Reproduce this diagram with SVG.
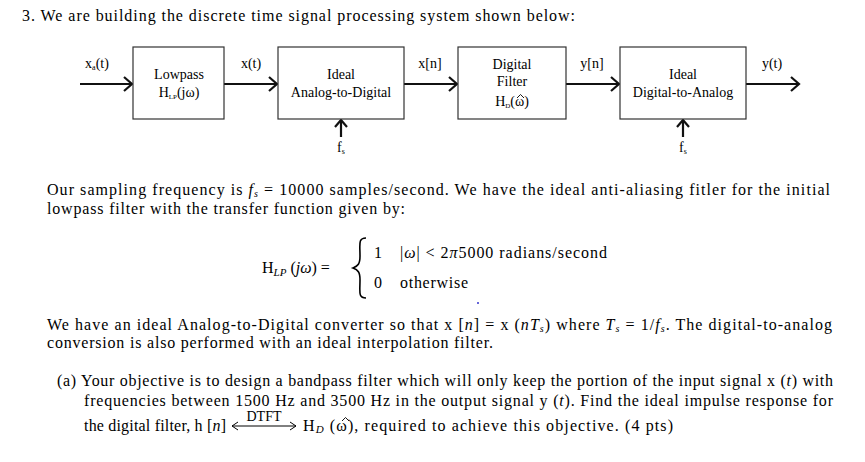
<svg xmlns="http://www.w3.org/2000/svg" width="865" height="462" viewBox="0 0 865 462">
<style>
text{font-family:"Liberation Serif","DejaVu Serif",serif;fill:#000}
.b{font-size:14px;text-anchor:middle}
.p{font-size:16px}
.box{fill:#fff;stroke:#333;stroke-width:1.2}
.c line{stroke:#111;stroke-width:2.2}
.ar{fill:none;stroke:#111;stroke-width:2.2}
.hat{fill:none;stroke:#000;stroke-width:0.9}
</style>
<rect width="865" height="462" style="fill:#fff;stroke:none"/>
<text class="p" x="22" y="21" textLength="553" lengthAdjust="spacing">3.  We are building the discrete time signal processing system shown below:</text>
<g class="c">
<line x1="80" y1="84" x2="131" y2="84"/><path class="ar" d="M124,77 L132,84 L124,91"/>
<line x1="224" y1="84" x2="276" y2="84"/><path class="ar" d="M269,77 L277,84 L269,91"/>
<line x1="404" y1="84" x2="456" y2="84"/><path class="ar" d="M449,77 L457,84 L449,91"/>
<line x1="566" y1="84" x2="618" y2="84"/><path class="ar" d="M611,77 L619,84 L611,91"/>
<line x1="746" y1="84" x2="798" y2="84"/><path class="ar" d="M791,77 L799,84 L791,91"/>
<line x1="341" y1="137" x2="341" y2="121"/><path class="ar" d="M335,127 L341,120 L347,127"/>
<line x1="683" y1="137" x2="683" y2="121"/><path class="ar" d="M677,127 L683,120 L689,127"/>
</g>
<text class="b" x="97" y="68">x<tspan font-size="8" dy="2">a</tspan><tspan dy="-2">(t)</tspan></text>
<text class="b" x="251" y="68">x(t)</text>
<text class="b" x="430" y="68">x[n]</text>
<text class="b" x="592" y="68">y[n]</text>
<text class="b" x="772" y="68">y(t)</text>
<g id="lowpass"><rect class="box" x="133" y="47" width="91" height="72"/><text class="b" x="179" y="79">Lowpass</text><text class="b" x="179" y="97">H<tspan font-size="7" dy="2">LP</tspan><tspan dy="-2">(jω)</tspan></text></g>
<g id="adc"><rect class="box" x="278" y="47" width="126" height="72"/><text class="b" x="341" y="79">Ideal</text><text class="b" x="341" y="97">Analog-to-Digital</text></g>
<g id="filter"><rect class="box" x="458" y="47" width="108" height="72"/><text class="b" x="512" y="69">Digital</text><text class="b" x="512" y="86">Filter</text><text class="b" x="512" y="106">H<tspan font-size="7" dy="2">D</tspan><tspan dy="-2">(ω)</tspan></text><path class="hat" d="M517,98 L520.5,94.5 L524,98"/></g>
<g id="dac"><rect class="box" x="620" y="47" width="126" height="72"/><text class="b" x="683" y="79">Ideal</text><text class="b" x="683" y="97">Digital-to-Analog</text></g>
<text class="b" x="341" y="152">f<tspan font-size="8" dy="2">s</tspan></text>
<text class="b" x="683" y="152">f<tspan font-size="8" dy="2">s</tspan></text>
<text class="p" x="47" y="195" textLength="783" lengthAdjust="spacing">Our sampling frequency is <tspan font-style="italic">f<tspan font-size="10" dy="2">s</tspan></tspan><tspan dy="-2"> = 10000 samples/second.  We have the ideal anti-aliasing fitler for the initial</tspan></text>
<text class="p" x="47" y="214" textLength="358" lengthAdjust="spacing">lowpass filter with the transfer function given by:</text>
<text class="p" x="262" y="273">H<tspan font-size="11" font-style="italic" dy="3">LP</tspan><tspan dy="-3"> (</tspan><tspan font-style="italic">jω</tspan>) =</text>
<path d="M366,238 C358,238 360,244 360,256 C360,264 358,266 353,268 C358,270 360,272 360,280 C360,292 358,298 366,298" fill="none" stroke="#000" stroke-width="1.6"/>
<text class="p" x="374" y="258">1</text>
<text class="p" x="400" y="258" textLength="207" lengthAdjust="spacing">|<tspan font-style="italic">ω</tspan>| &lt; 2<tspan font-style="italic">π</tspan>5000 radians/second</text>
<text class="p" x="374" y="288">0</text>
<text class="p" x="400" y="288" textLength="68" lengthAdjust="spacing">otherwise</text>
<circle cx="478" cy="303" r="1" fill="#33c"/>
<text class="p" x="47" y="330" textLength="785" lengthAdjust="spacing">We have an ideal Analog-to-Digital converter so that x [<tspan font-style="italic">n</tspan>] = x (<tspan font-style="italic">nT<tspan font-size="10" dy="2">s</tspan></tspan><tspan dy="-2">) where </tspan><tspan font-style="italic">T<tspan font-size="10" dy="2">s</tspan></tspan><tspan dy="-2"> = 1/</tspan><tspan font-style="italic">f<tspan font-size="10" dy="2">s</tspan></tspan><tspan dy="-2">. The digital-to-analog</tspan></text>
<text class="p" x="47" y="348" textLength="446" lengthAdjust="spacing">conversion is also performed with an ideal interpolation filter.</text>
<text class="p" x="57" y="386" textLength="776" lengthAdjust="spacing">(a)  Your objective is to design a bandpass filter which will only keep the portion of the input signal x (<tspan font-style="italic">t</tspan>) with</text>
<text class="p" x="84" y="406" textLength="749" lengthAdjust="spacing">frequencies between 1500 Hz and 3500 Hz in the output signal y (<tspan font-style="italic">t</tspan>). Find the ideal impulse response for</text>
<text class="p" x="84" y="431" textLength="142" lengthAdjust="spacing">the digital filter, h [<tspan font-style="italic">n</tspan>]</text>
<text font-size="14" x="264" y="421" text-anchor="middle" style="font-family:'Liberation Serif',serif">DTFT</text>
<path d="M232,426 H296 M238,422 L232,426 L238,430 M290,422 L296,426 L290,430" fill="none" stroke="#000" stroke-width="1"/>
<text class="p" x="303" y="431" textLength="370" lengthAdjust="spacing">H<tspan font-style="italic" font-size="11" dy="2">D</tspan><tspan dy="-2"> (</tspan>ω), required to achieve this objective. (4 pts)</text>
<path class="hat" d="M342,421 L345.5,417.5 L349,421"/>
</svg>
